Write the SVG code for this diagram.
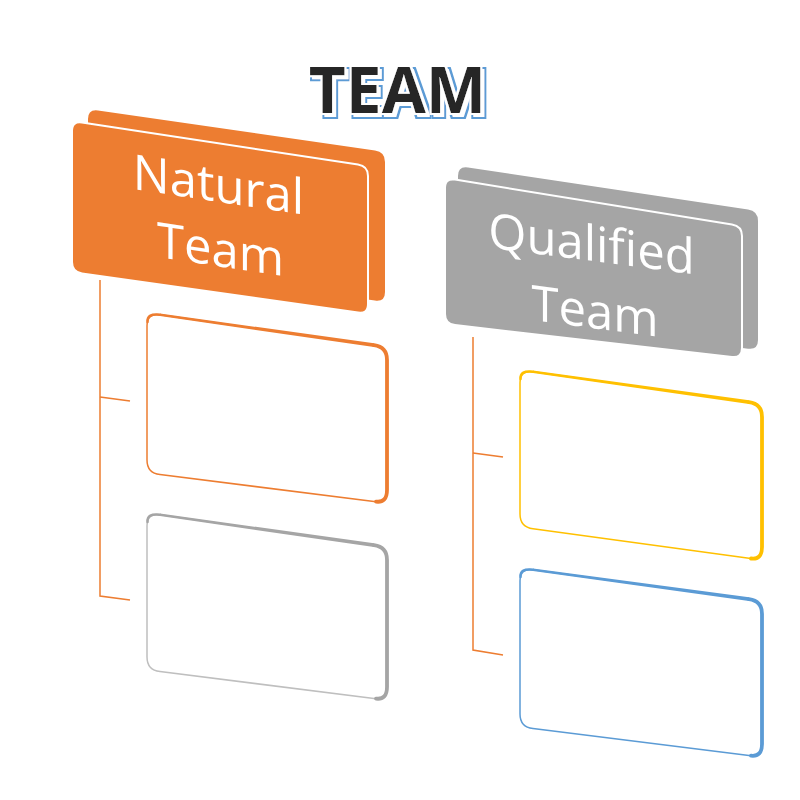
<svg xmlns="http://www.w3.org/2000/svg" width="800" height="800" viewBox="0 0 800 800">
<style>
.title{font-family:"Open Sans","Liberation Sans",sans-serif;font-weight:700;font-size:64px;text-anchor:middle}
.hdr{font-family:"Open Sans","Noto Sans",sans-serif;font-size:49px;fill:#ffffff;text-anchor:middle}
.front{stroke:#ffffff;stroke-width:2}
.thin{fill:#ffffff;stroke-width:1.5}
.mid{fill:none;stroke-width:2.5;stroke-linecap:round}
.thick{fill:none;stroke-width:3.8;stroke-linecap:round}
.conn{fill:none;stroke:#ED7D31;stroke-width:1.5}
</style>
<defs>
<filter id="titleShadow" x="-10%" y="-20%" width="120%" height="150%">
<feMorphology in="SourceAlpha" operator="dilate" radius="3" result="outer"/>
<feOffset in="outer" dx="2.5" dy="2.5" result="outerOff"/>
<feMorphology in="SourceAlpha" operator="dilate" radius="1" result="inner"/>
<feOffset in="inner" dx="2.5" dy="2.5" result="innerOff"/>
<feFlood flood-color="#5B9BD5" result="blue"/>
<feComposite in="blue" in2="outerOff" operator="in" result="blueOuter"/>
<feFlood flood-color="#ffffff" result="white"/>
<feComposite in="white" in2="innerOff" operator="in" result="whiteInner"/>
<feMorphology in="SourceAlpha" operator="dilate" radius="1.5" result="halo"/>
<feComposite in="white" in2="halo" operator="in" result="whiteHalo"/>
<feMerge>
<feMergeNode in="blueOuter"/>
<feMergeNode in="whiteInner"/>
<feMergeNode in="whiteHalo"/>
<feMergeNode in="SourceGraphic"/>
</feMerge>
</filter>
</defs>
<rect width="800" height="800" fill="#ffffff"/>
<g id="title">
<text class="title" x="397.5" y="113" fill="#262626" filter="url(#titleShadow)">TEAM</text>
</g>
<g id="connectors">
<path class="conn" d="M 100 280 L 100 596 L 130 600"/>
<path class="conn" d="M 100 397 L 130 401"/>
<path class="conn" d="M 473 337 L 473 650 L 503 655"/>
<path class="conn" d="M 473 453 L 503 457"/>
</g>
<g id="natural-team">
<path fill="#ED7D31" d="M 98 110.4 L 375 150.6 Q 385 152 385 162 L 385 292 Q 385 302 375 300.6 L 98 263.4 Q 88 262 88 252 L 88 119 Q 88 109 98 110.4 Z"/>
<path class="front" fill="#ED7D31" d="M 82 122.5 L 358 164.5 Q 368 166 368 176 L 368 304 Q 368 314 358 312.6 L 82 273.4 Q 72 272 72 262 L 72 131 Q 72 121 82 122.5 Z"/>
<g transform="matrix(1,0.15,0,1,0,0)">
<text class="hdr" x="218.5" y="169">Natural</text>
<text class="hdr" x="220.5" y="233.5">Team</text>
</g>
</g>
<g id="qualified-team">
<path fill="#A5A5A5" d="M 468 167.5 L 748 209.5 Q 758 211 758 221 L 758 340 Q 758 350 748 348.7 L 468 311.3 Q 458 310 458 300 L 458 176 Q 458 166 468 167.5 Z"/>
<path class="front" fill="#A5A5A5" d="M 455 179.6 L 732 224.4 Q 742 226 742 236 L 742 348 Q 742 358 732 356.9 L 455 325.1 Q 445 324 445 314 L 445 188 Q 445 178 455 179.6 Z"/>
<g transform="matrix(1,0.13,0,1,0,0)">
<text class="hdr" x="591.5" y="184">Qualified</text>
<text class="hdr" x="595" y="251">Team</text>
</g>
</g>
<g id="box-orange">
<path class="thin" stroke="#ED7D31" d="M 160 314.8 L 374 345.2 Q 387 347 387 360 L 387 490 Q 387 503 374 501.4 L 160 474.6 Q 147 473 147 460 L 147 326 Q 147 313 160 314.8 Z"/>
<path class="mid" stroke="#ED7D31" d="M 147.5 322 Q 147 313 160 314.8"/>
<polygon fill="#ED7D31" points="160,313.55 374,343.3 374,347.1 160,316.05"/>
<path class="thick" stroke="#ED7D31" d="M 374 345.2 Q 387 347 387 360 L 387 490 Q 387 503 376 501.6"/>
</g>
<g id="box-gray">
<path class="thin" stroke="#BFBFBF" d="M 160 514.8 L 374 545.2 Q 387 547 387 560 L 387 687 Q 387 700 374 698.4 L 160 671.6 Q 147 670 147 657 L 147 526 Q 147 513 160 514.8 Z"/>
<path class="mid" stroke="#A5A5A5" d="M 147.5 522 Q 147 513 160 514.8"/>
<polygon fill="#A5A5A5" points="160,513.55 374,543.3 374,547.1 160,516.05"/>
<path class="thick" stroke="#A5A5A5" d="M 374 545.2 Q 387 547 387 560 L 387 687 Q 387 700 376 698.6"/>
</g>
<g id="box-yellow">
<path class="thin" stroke="#FFC000" d="M 533 371.8 L 749 402.2 Q 762 404 762 417 L 762 547 Q 762 560 749 558.2 L 533 528.8 Q 520 527 520 514 L 520 383 Q 520 370 533 371.8 Z"/>
<path class="mid" stroke="#FFC000" d="M 520.5 379 Q 520 370 533 371.8"/>
<polygon fill="#FFC000" points="533,370.55 749,400.3 749,404.1 533,373.05"/>
<path class="thick" stroke="#FFC000" d="M 749 402.2 Q 762 404 762 417 L 762 547 Q 762 560 751 558.5"/>
</g>
<g id="box-blue">
<path class="thin" stroke="#5B9BD5" d="M 533 569.8 L 749 599.2 Q 762 601 762 614 L 762 744 Q 762 757 749 755.4 L 533 728.6 Q 520 727 520 714 L 520 581 Q 520 568 533 569.8 Z"/>
<path class="mid" stroke="#5B9BD5" d="M 520.5 577 Q 520 568 533 569.8"/>
<polygon fill="#5B9BD5" points="533,568.55 749,597.3 749,601.1 533,571.05"/>
<path class="thick" stroke="#5B9BD5" d="M 749 599.2 Q 762 601 762 614 L 762 744 Q 762 757 751 755.7"/>
</g>
</svg>
